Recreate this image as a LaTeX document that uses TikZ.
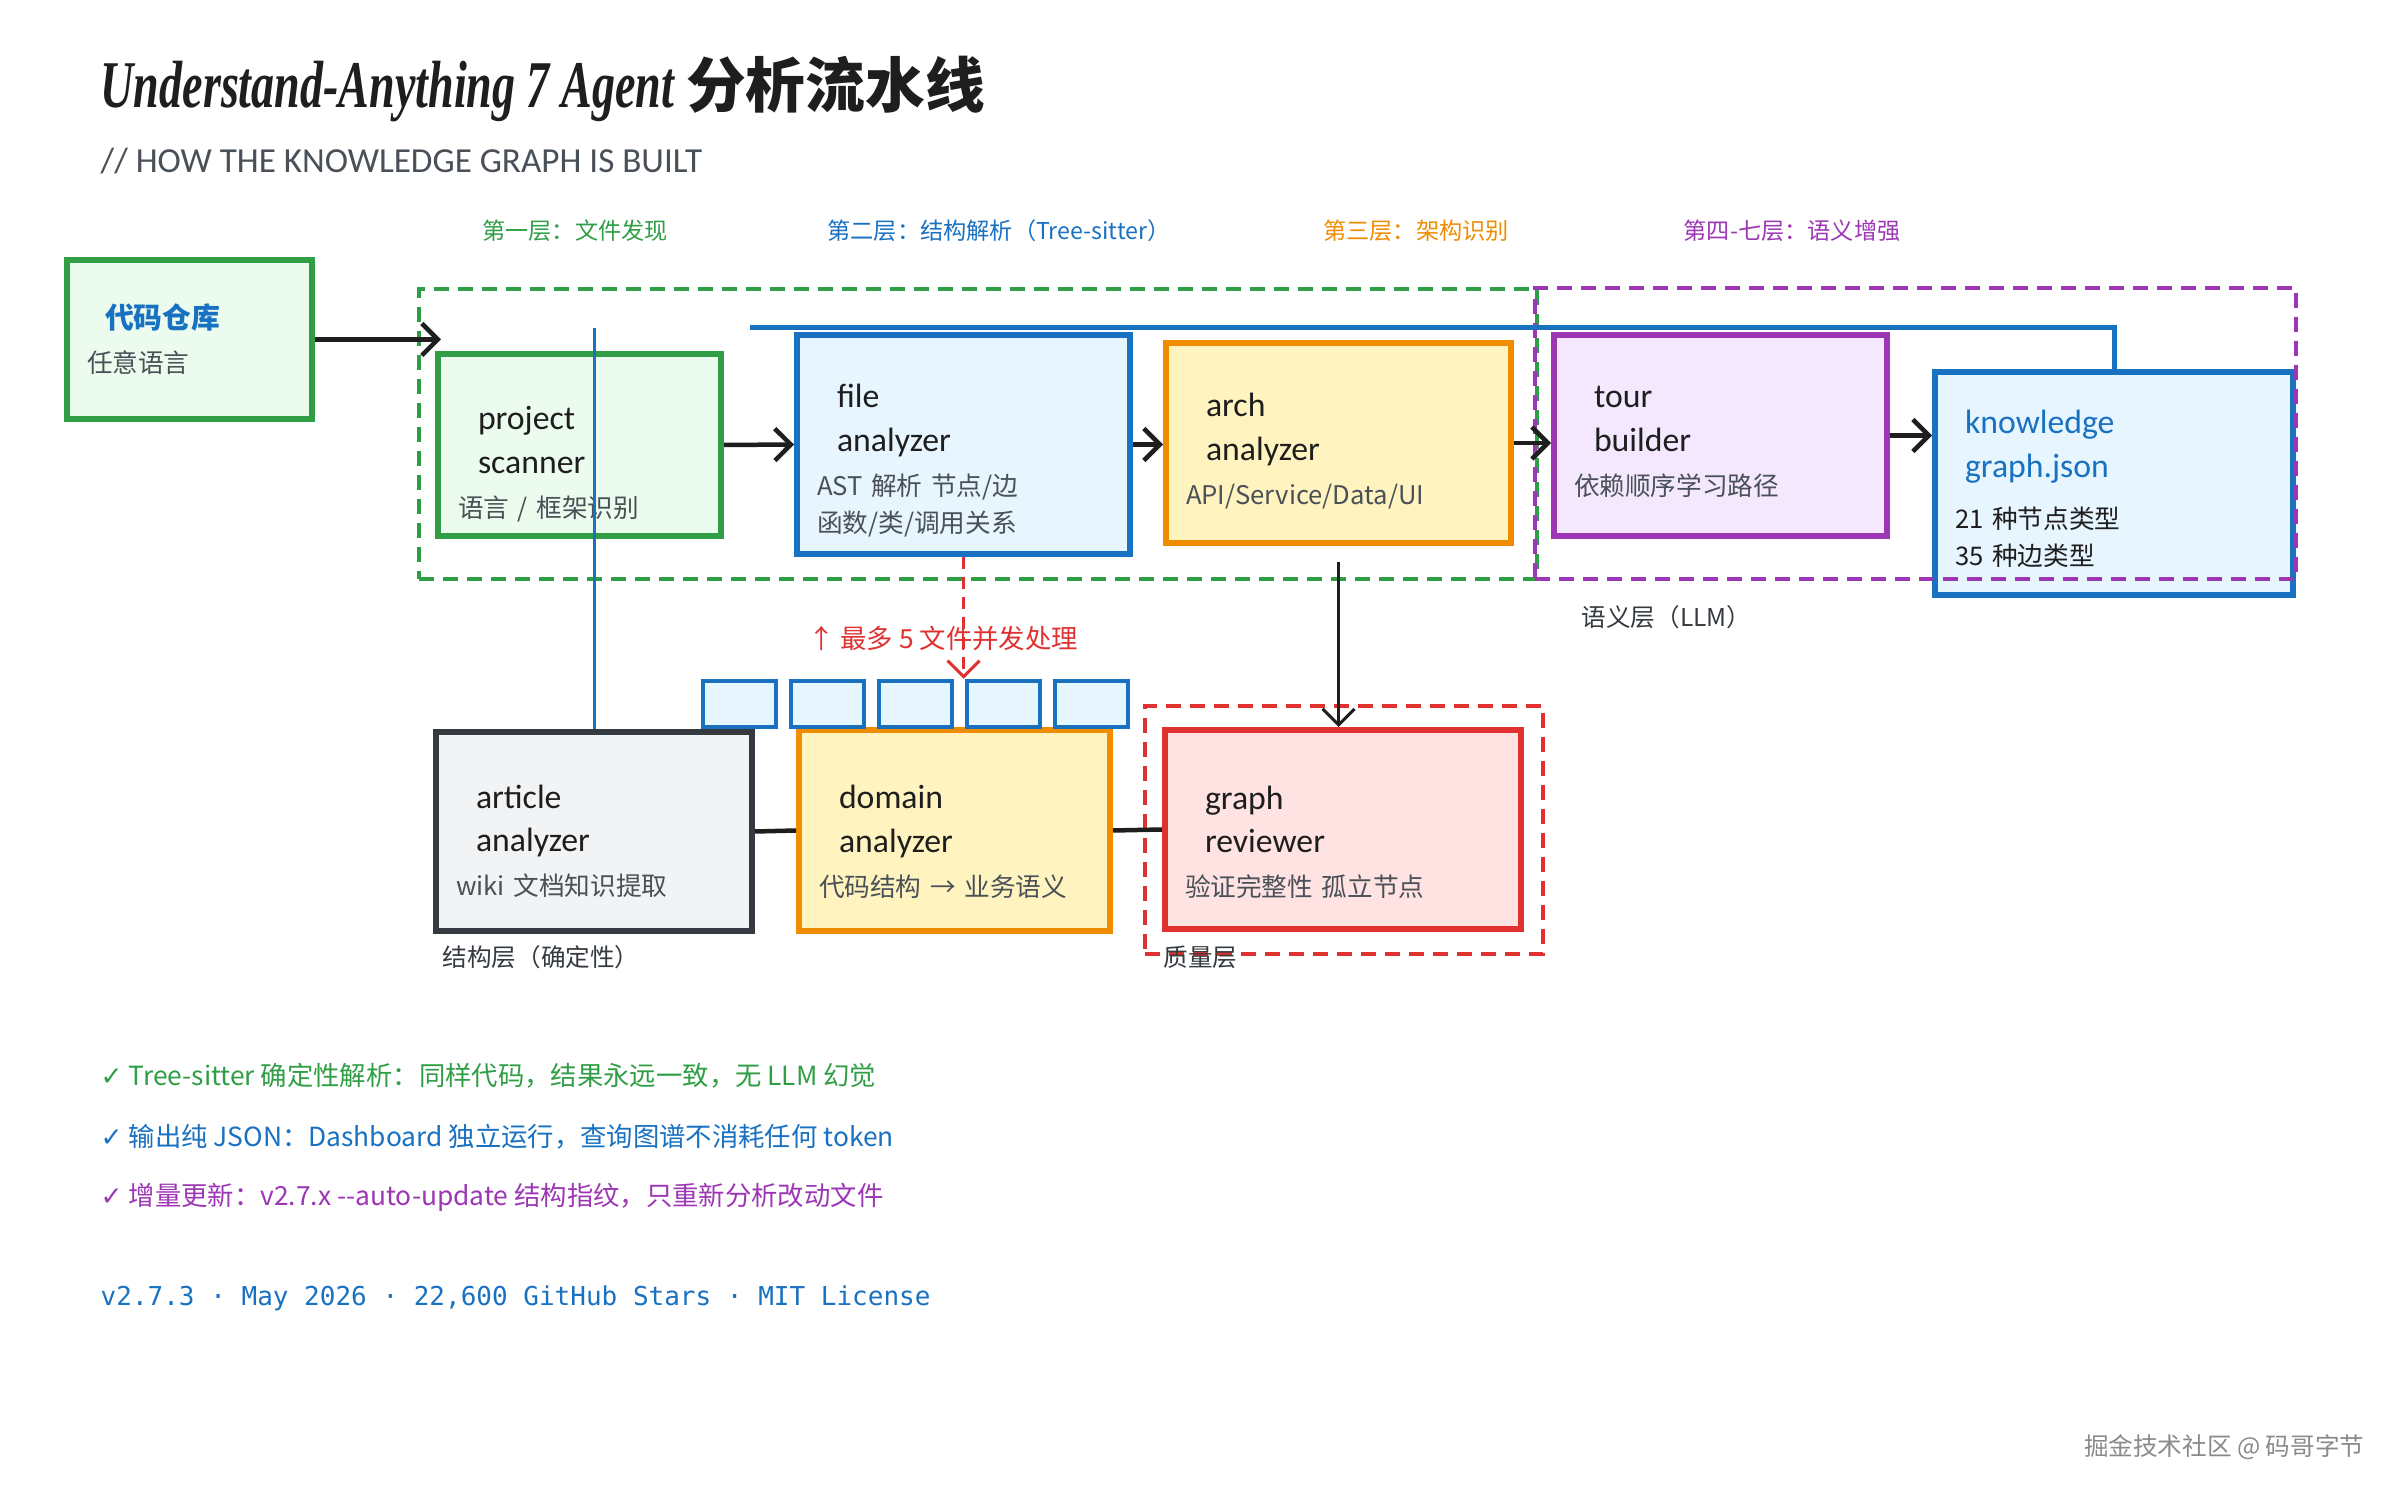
\documentclass[tikz,border=0pt]{standalone}
\usepackage{fontspec}
\usepackage{xcolor}
\usepackage{graphicx}
\usetikzlibrary{arrows.meta,positioning}
\setmainfont{Noto Sans CJK SC}
\newfontfamily\hand{Carlito}
\newfontfamily\titlelatin{Liberation Serif}
\newfontfamily\mono{DejaVu Sans Mono}
\newfontfamily\symb{DejaVu Sans}
\definecolor{ink}{HTML}{1E1E1E}
\definecolor{muted}{HTML}{495057}
\definecolor{grnline}{HTML}{2F9E44}
\definecolor{grnfill}{HTML}{EBFBEE}
\definecolor{bluline}{HTML}{1971C2}
\definecolor{blufill}{HTML}{E7F5FF}
\definecolor{orgline}{HTML}{F08C00}
\definecolor{orgfill}{HTML}{FFF3BF}
\definecolor{purline}{HTML}{9C36B5}
\definecolor{purfill}{HTML}{F3E8FD}
\definecolor{redline}{HTML}{E03131}
\definecolor{redfill}{HTML}{FFE3E3}
\definecolor{grayline}{HTML}{343A40}
\definecolor{grayfill}{HTML}{F1F3F5}
\definecolor{wmgray}{HTML}{8A8A8A}
\newcommand{\agentname}[1]{{\hand\fontsize{9.6}{12.5}\selectfont\hspace*{2mm}#1}}
\tikzset{
  agent/.style n args={4}{draw=#1, fill=#2, line width=0.6mm, minimum width=#3, minimum height=#4,
    text width=\dimexpr#3-4mm\relax, inner xsep=2mm, align=left, text=ink,
    font=\fontsize{7.3}{12.5}\selectfont},
  lowered/.style={execute at begin node={\rule{0pt}{#1}}},
  group/.style n args={3}{draw=#1, dash pattern=on 1.5mm off 0.9mm, line width=0.4mm, minimum width=#2, minimum height=#3},
  batchbox/.style={draw=bluline, fill=blufill, line width=0.45mm, minimum width=7.3mm, minimum height=4.6mm},
  flow/.style={ink, line width=0.45mm, -{Straight Barb[length=1.6mm,width=3.2mm]}},
  link/.style={ink, line width=0.45mm},
  bus/.style={bluline, line width=0.5mm},
  tag/.style={anchor=west, inner xsep=0pt, font=\fontsize{7}{9}\selectfont, text=grayline},
  note/.style={anchor=west, inner xsep=0pt, font=\fontsize{7.5}{9}\selectfont},
  layertitle/.style={font=\fontsize{6.6}{8}\selectfont}
}

\begin{document}
\begin{tikzpicture}[x=0.1mm, y=-0.1mm]
  \fill[white] (0,0) rectangle (2400,1498);
  \useasboundingbox (0,0) rectangle (2400,1498);

  % heading
  \node[anchor=west, inner sep=0pt, text=ink] (title) at (100,89)
    {\scalebox{0.69}[1]{\titlelatin\bfseries\itshape\fontsize{19}{22}\selectfont Understand-Anything 7 Agent}\hspace{1.2mm}{\bfseries\fontsize{17}{20}\selectfont 分析流水线}};
  \node[anchor=west, inner sep=0pt, text=muted] (subtitle) at (100,161)
    {\hand\fontsize{10}{12}\selectfont // HOW THE KNOWLEDGE GRAPH IS BUILT};

  % layer titles
  \node[layertitle, text=grnline] (t1) at (575,231) {第一层：文件发现};
  \node[layertitle, text=bluline] (t2) at (999,231) {第二层：结构解析（Tree-sitter）};
  \node[layertitle, text=orgline] (t3) at (1416,231) {第三层：架构识别};
  \node[layertitle, text=purline] (t4) at (1792,231) {第四-七层：语义增强};

  % agents
  \node[agent={grnline}{grnfill}{24.5mm}{15.9mm}] (repo) at (189.5,339.5)
    {{\bfseries\color{bluline}\fontsize{8.2}{10}\selectfont\hspace*{1.8mm}代码仓库}\\
     {\color{muted}任意语言}};
  \node[agent={grnline}{grnfill}{28.3mm}{18.2mm}, lowered=6.1mm] (scan) at (579.5,445)
    {\agentname{project}\\
     \agentname{scanner}\\
     {\color{muted}语言 / 框架识别}};
  \node[agent={bluline}{blufill}{33.3mm}{21.9mm}, lowered=5.5mm] (file) at (963.5,444.5)
    {\agentname{file}\\
     \agentname{analyzer}\\
     {\color{muted}AST 解析 节点/边}\\[-2pt]
     {\color{muted}函数/类/调用关系}};
  \node[agent={orgline}{orgfill}{34.5mm}{20mm}, lowered=4mm] (arch) at (1338.5,443)
    {\agentname{arch}\\
     \agentname{analyzer}\\
     {\color{muted}API/Service/Data/UI}};
  \node[agent={purline}{purfill}{33.3mm}{20.1mm}, lowered=3.4mm] (tour) at (1720.5,435.5)
    {\agentname{tour}\\
     \agentname{builder}\\
     {\color{muted}依赖顺序学习路径}};
  \node[agent={bluline}{blufill}{35.8mm}{22.3mm}, lowered=3.4mm] (know) at (2114,483.5)
    {{\hand\fontsize{9.6}{12.5}\selectfont\hspace*{1mm}\color{bluline}knowledge}\\
     {\hand\fontsize{9.6}{12.5}\selectfont\hspace*{1mm}\color{bluline}graph.json}\\[2pt]
     {21 种节点类型}\\[-2pt]
     {35 种边类型}};
  \node[agent={grayline}{grayfill}{31.6mm}{19.9mm}, lowered=4.3mm] (article) at (594,831.5)
    {\agentname{article}\\
     \agentname{analyzer}\\
     {\color{muted}wiki 文档知识提取}};
  \node[agent={orgline}{orgfill}{31.1mm}{20.1mm}, lowered=4.6mm] (domain) at (954.5,830.5)
    {\agentname{domain}\\
     \agentname{analyzer}\\
     {\color{muted}代码结构 → 业务语义}};
  \node[agent={redline}{redfill}{35.6mm}{19.9mm}, lowered=4.9mm] (review) at (1343,829.5)
    {\agentname{graph}\\
     \agentname{reviewer}\\
     {\color{muted}验证完整性 孤立节点}};

  % five parallel file slots
  \foreach \i in {1,...,5}
    \node[batchbox] (b\i) at ({739.5+88*(\i-1)},704) {};

  % layer frames
  \node[group={grnline}{111.8mm}{29mm}] (layerA) at (978,434) {};
  \node[group={purline}{76.1mm}{29.1mm}] (layerB) at (1915.5,433.5) {};
  \node[group={redline}{39.8mm}{24.8mm}] (quality) at (1344,830) {};

  \node[tag] (structtag) at (442,957) {结构层（确定性）};
  \node[tag] (qualtag) at (1163,957) {质量层};
  \node[tag] (semtag) at (1581,617) {语义层（LLM）};

  % connectors
  \coordinate (busL) at (750,328);
  \draw[bus, line width=0.3mm] (article.north) -- (article.north |- busL);
  \draw[bus] (busL) -| (know.north);
  \draw[flow] (repo.east) -- ([xshift=0.6mm]repo.east -| scan.west);
  \draw[flow] (scan.east) -- (file.west);
  \draw[flow] (file.east) -- (file.east -| arch.west);
  \draw[flow] (arch.east) -- (arch.east -| tour.west);
  \draw[flow] (tour.east) -- (tour.east -| know.west);
  \draw[flow, line width=0.3mm] ([yshift=-1.6mm]arch.south) -- (arch.south |- review.north);
  \draw[flow, redline, line width=0.3mm, dash pattern=on 1.2mm off 0.8mm] (file.south) -- (file.south |- b3.north);
  \draw[link] (article.east) -- (domain.west);
  \draw[link] (domain.east) -- (review.west);
  \node[text=redline, font=\fontsize{7.5}{9}\selectfont] (limit) at (943,638) {↑ 最多 5 文件并发处理};

  % notes
  \node[note, text=grnline] (n1) at (100,1076)
    {{\symb ✓} Tree-sitter 确定性解析：同样代码，结果永远一致，无 LLM 幻觉};
  \node[note, text=bluline] (n2) at (100,1137)
    {{\symb ✓} 输出纯 JSON：Dashboard 独立运行，查询图谱不消耗任何 token};
  \node[note, text=purline] (n3) at (100,1197)
    {{\symb ✓} 增量更新：v2.7.x -{}-auto-update 结构指纹，只重新分析改动文件};
  \node[note, text=bluline, font=\mono\fontsize{7.4}{9}\selectfont] (footer) at (100,1298)
    {v2.7.3 · May 2026 · 22,600 GitHub Stars · MIT License};
  \node[anchor=east, inner xsep=0pt, text=wmgray, font=\fontsize{7}{9}\selectfont] (wm) at (2365,1447)
    {掘金技术社区 @ 码哥字节};
\end{tikzpicture}
\end{document}
